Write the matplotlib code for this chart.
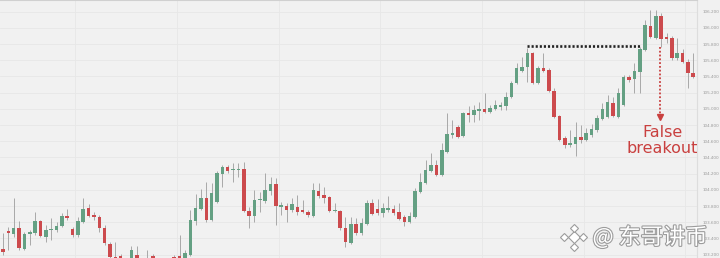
import numpy as np
import matplotlib.pyplot as plt
import matplotlib.patheffects as pe

# OHLC, one row per candle (left to right)
opens = [103.27, 103.48, 103.46, 103.53, 103.27, 103.46, 103.47, 103.62, 103.42, 103.50,
         103.50, 103.55, 103.68, 103.52, 103.44, 103.60, 103.78, 103.69, 103.66, 103.53,
         103.33, 103.17, 103.18, 102.95, 103.04, 103.20, 103.11, 103.04, 103.18, 103.09,
         102.95, 103.01, 103.17, 103.18, 103.11, 103.20, 103.62, 103.76, 103.90, 103.63,
         103.85, 104.20, 104.28, 104.24, 104.24, 104.26, 103.74, 103.68, 103.87, 103.86,
         103.99, 104.07, 103.79, 103.80, 103.75, 103.79, 103.745, 103.73, 103.68, 103.99,
         103.94, 103.91, 103.735, 103.74, 103.53, 103.34, 103.58, 103.47, 103.58, 103.84,
         103.76, 103.71, 103.755, 103.76, 103.73, 103.66, 103.60, 103.66, 103.97, 104.09,
         104.23, 104.31, 104.18, 104.47, 104.68, 104.78, 104.66, 104.95, 104.92, 104.97,
         105.00, 104.96, 105.00, 105.02, 105.04, 105.15, 105.32, 105.47, 105.52, 105.69,
         105.32, 105.50, 105.48, 105.22, 104.91, 104.64, 104.55, 104.57, 104.65, 104.62,
         104.68, 104.74, 104.88, 104.90, 105.07, 104.90, 105.05, 105.39, 105.37, 105.45,
         105.73, 106.02, 105.87, 106.15, 105.89, 105.88, 105.63, 105.69, 105.58, 105.44]
highs = [103.47, 103.54, 103.90, 103.62, 103.48, 103.50, 103.73, 103.63, 103.57, 103.65,
         103.60, 103.71, 103.76, 103.54, 103.66, 103.90, 103.83, 103.73, 103.69, 103.57,
         103.36, 103.36, 103.21, 103.13, 103.31, 103.31, 103.15, 103.26, 103.21, 103.13,
         103.13, 103.15, 103.20, 103.44, 103.26, 103.75, 103.95, 104.01, 104.10, 104.09,
         104.23, 104.31, 104.31, 104.33, 104.33, 104.34, 103.79, 104.00, 103.97, 104.21,
         104.16, 104.15, 103.85, 103.84, 103.90, 103.94, 103.88, 103.75, 104.09, 104.09,
         104.04, 103.92, 103.84, 103.75, 103.66, 103.66, 103.65, 103.65, 103.88, 103.89,
         103.89, 103.84, 103.92, 103.81, 103.84, 103.69, 103.73, 104.02, 104.21, 104.37,
         104.46, 104.37, 104.58, 104.95, 104.86, 104.80, 104.96, 105.04, 105.05, 105.08,
         105.20, 105.05, 105.11, 105.08, 105.21, 105.34, 105.57, 105.64, 105.75, 105.70,
         105.53, 105.69, 105.50, 105.26, 104.92, 104.67, 104.74, 104.84, 104.80, 104.76,
         104.81, 104.92, 105.07, 105.17, 105.15, 105.26, 105.42, 105.42, 105.57, 105.76,
         106.10, 106.22, 106.22, 106.18, 105.94, 105.90, 105.87, 105.74, 105.62, 105.69]
lows = [103.20, 103.26, 103.42, 103.26, 103.26, 103.32, 103.44, 103.42, 103.36, 103.38,
        103.48, 103.54, 103.63, 103.42, 103.42, 103.59, 103.66, 103.63, 103.48, 103.32,
        103.13, 102.99, 103.01, 102.91, 103.01, 103.04, 102.95, 102.99, 103.04, 102.94,
        102.91, 102.99, 103.06, 103.07, 103.09, 103.18, 103.57, 103.75, 103.60, 103.62,
        103.84, 104.04, 104.21, 104.10, 104.16, 103.73, 103.53, 103.60, 103.73, 103.84,
        103.94, 103.57, 103.69, 103.60, 103.73, 103.69, 103.71, 103.66, 103.66, 103.90,
        103.84, 103.73, 103.725, 103.50, 103.30, 103.33, 103.44, 103.44, 103.57, 103.69,
        103.69, 103.66, 103.73, 103.69, 103.63, 103.55, 103.59, 103.65, 103.96, 104.07,
        104.22, 104.17, 104.17, 104.46, 104.64, 104.64, 104.65, 104.84, 104.84, 104.86,
        104.95, 104.95, 104.99, 104.99, 104.99, 105.13, 105.31, 105.45, 105.33, 105.31,
        105.31, 105.45, 105.21, 104.89, 104.60, 104.52, 104.53, 104.42, 104.58, 104.60,
        104.65, 104.71, 104.86, 104.89, 104.90, 104.89, 105.04, 105.33, 105.20, 105.20,
        105.71, 105.87, 105.86, 105.76, 105.81, 105.60, 105.60, 105.57, 105.26, 105.38]
closes = [103.23, 103.47, 103.53, 103.28, 103.46, 103.48, 103.62, 103.43, 103.50, 103.51,
          103.55, 103.68, 103.65, 103.44, 103.62, 103.76, 103.68, 103.66, 103.53, 103.34,
          103.17, 103.04, 103.06, 103.07, 103.26, 103.07, 103.01, 103.11, 103.09, 102.99,
          103.07, 103.11, 103.11, 103.11, 103.22, 103.63, 103.78, 103.90, 103.63, 103.96,
          104.21, 104.28, 104.23, 104.25, 104.25, 103.74, 103.68, 103.88, 103.88, 104.00,
          104.07, 103.80, 103.81, 103.75, 103.83, 103.73, 103.73, 103.69, 104.00, 103.92,
          103.90, 103.74, 103.745, 103.53, 103.36, 103.58, 103.47, 103.59, 103.84, 103.70,
          103.71, 103.78, 103.77, 103.71, 103.64, 103.60, 103.68, 103.99, 104.10, 104.25,
          104.31, 104.18, 104.49, 104.69, 104.70, 104.65, 104.95, 104.92, 104.99, 105.00,
          104.96, 105.01, 105.05, 105.05, 105.15, 105.32, 105.50, 105.52, 105.69, 105.32,
          105.50, 105.47, 105.22, 104.90, 104.62, 104.55, 104.58, 104.65, 104.62, 104.70,
          104.75, 104.89, 105.00, 105.08, 104.91, 105.20, 105.39, 105.36, 105.47, 105.74,
          106.04, 105.89, 106.15, 105.86, 105.86, 105.63, 105.69, 105.58, 105.44, 105.39]

resistance = 105.78
resistance_span = (98, 119.3)
fake_x = 122.8
fake_low = 104.86
label = "False\nbreakout"
price_ticks = np.round(np.arange(103.2, 106.21, 0.2), 1)

GREEN = '#64a083'
RED = '#cc4a4d'
WICK = '#a8a8a8'
BG = '#f1f1f1'

o = np.array(opens); h = np.array(highs); l = np.array(lows); c = np.array(closes)
idx = np.arange(len(o))
up = c >= o
cols = np.where(up, GREEN, RED)

fig = plt.figure(figsize=(7.2, 2.58), dpi=100, facecolor=BG)
ax = fig.add_axes([0, 0, 697 / 720, 1])
ax.set_facecolor(BG)

ax.vlines(idx, l, h, color=WICK, lw=0.7, zorder=2)
body_lo = np.minimum(o, c)
body_h = np.maximum(np.abs(c - o), 0.02)
ax.bar(idx, body_h, bottom=body_lo, width=0.66, color=cols, zorder=3)

# resistance + false breakout
ax.plot(resistance_span, [resistance, resistance], color='#222222', lw=1.9,
        ls=(0, (0.8, 0.75)), zorder=4)
ax.plot([fake_x, fake_x], [resistance - 0.02, fake_low + 0.06], color='#c9403f',
        lw=1.3, ls=(0, (1, 1.1)), zorder=4)
ax.plot([fake_x], [fake_low + 0.04], marker='v', ms=5, color='#c9403f', zorder=4)
ax.text(fake_x + 0.4, fake_low - 0.06, label, color='#c9403f', fontsize=11.5,
        ha='center', va='top', linespacing=1.1, zorder=5)

ax.set_xlim(-0.56, 129.7)
ax.set_ylim(103.159, 106.344)
ax.set_yticks(price_ticks)
ax.set_yticklabels([f"{p:.3f}" for p in price_ticks])
ax.yaxis.tick_right()
ax.tick_params(axis='y', length=0, labelsize=3, labelcolor='#9a9a9a', pad=4)
ax.set_xticks(np.arange(13.5, 130, 19))
ax.tick_params(axis='x', length=0, labelbottom=False)
ax.grid(True, color='#e7e7e7', lw=0.6, zorder=0)
ax.set_axisbelow(True)
for s in ['left', 'bottom']:
    ax.spines[s].set_visible(False)
ax.spines['right'].set_color('#dddddd')
ax.spines['top'].set_color('#d0d0d0')
ax.spines['top'].set_linewidth(1.5)

# watermark
stroke = [pe.withStroke(linewidth=1.6, foreground='#9c9c9c')]
fig.text(0.823, 0.08, "@ 东哥讲币", family=['Noto Sans CJK SC', 'DejaVu Sans'],
         fontsize=16, color='white', ha='left', va='center', path_effects=stroke)
lx, ly = 0.797, 0.08
for dx, dy, ms in [(0, 0, 6), (-0.013, 0, 4), (0.013, 0, 4), (0, 0.036, 4), (0, -0.036, 4)]:
    fig.lines.append(plt.Line2D([lx + dx], [ly + dy], marker='D', ms=ms, color='white',
                                mec='#9c9c9c', mew=0.8, transform=fig.transFigure))

fig.savefig('out.png', dpi=100, facecolor=BG)
